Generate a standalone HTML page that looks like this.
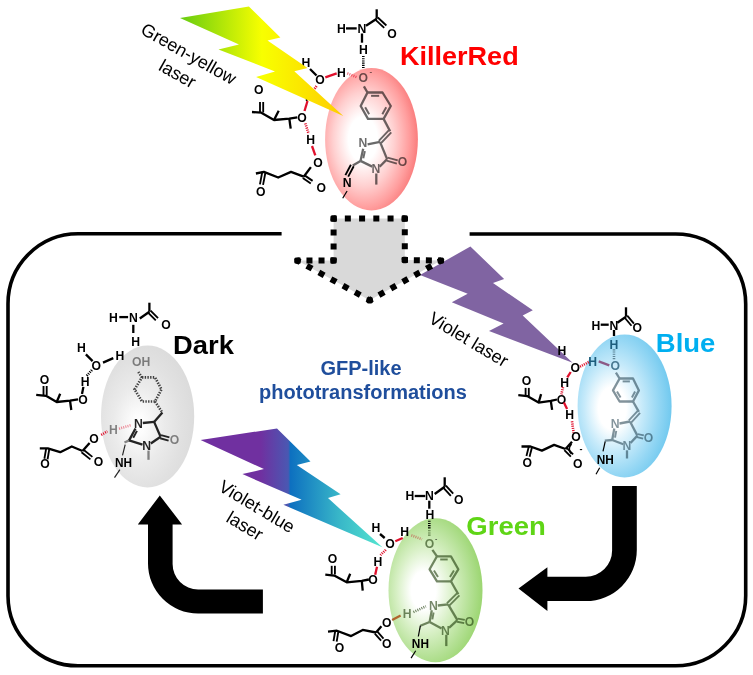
<!DOCTYPE html>
<html><head><meta charset="utf-8"><style>
html,body{margin:0;padding:0;background:#fff;width:753px;height:675px;overflow:hidden}
svg{display:block;will-change:transform}
text{font-family:"Liberation Sans",sans-serif}
</style></head><body>
<svg width="753" height="675" viewBox="0 0 753 675">
<defs>
<linearGradient id="gy" gradientUnits="userSpaceOnUse" x1="180" y1="0" x2="344" y2="0">
<stop offset="0" stop-color="#66cc11"/><stop offset="0.5" stop-color="#f8ff00"/><stop offset="1" stop-color="#ffcc00"/>
</linearGradient>
<linearGradient id="vb" gradientUnits="userSpaceOnUse" x1="200.6" y1="0" x2="382.4" y2="0">
<stop offset="0" stop-color="#7030a0"/><stop offset="0.33" stop-color="#7030a0"/><stop offset="0.482" stop-color="#4a58b2"/><stop offset="0.494" stop-color="#0d70c0"/><stop offset="0.76" stop-color="#38b6c8"/><stop offset="1" stop-color="#55e6d0"/>
</linearGradient>
<radialGradient id="gr" cx="0.43" cy="0.5" r="0.6" fx="0.4" fy="0.5"><stop offset="0" stop-color="#fff"/><stop offset="0.26" stop-color="#fff"/><stop offset="0.55" stop-color="#ffd0d0"/><stop offset="0.8" stop-color="#ff9e9e"/><stop offset="1" stop-color="#f87272"/></radialGradient>
<radialGradient id="gb" cx="0.4" cy="0.5" r="0.62" fx="0.36" fy="0.52"><stop offset="0" stop-color="#fff"/><stop offset="0.24" stop-color="#fff"/><stop offset="0.5" stop-color="#c6eafa"/><stop offset="0.76" stop-color="#95d7f4"/><stop offset="1" stop-color="#6cc7ee"/></radialGradient>
<radialGradient id="gg" cx="0.42" cy="0.5" r="0.6" fx="0.36" fy="0.5"><stop offset="0" stop-color="#fff"/><stop offset="0.22" stop-color="#fff"/><stop offset="0.5" stop-color="#d8f0c6"/><stop offset="0.78" stop-color="#b3e093"/><stop offset="1" stop-color="#98d46c"/></radialGradient>
<radialGradient id="gd" cx="0.42" cy="0.55" r="0.6" fx="0.4" fy="0.56"><stop offset="0" stop-color="#fff"/><stop offset="0.12" stop-color="#fcfcfc"/><stop offset="0.45" stop-color="#ebebeb"/><stop offset="0.75" stop-color="#e1e1e1"/><stop offset="1" stop-color="#dbdbdb"/></radialGradient>
</defs>

<path d="M281.6 233.7 H78 A70 70 0 0 0 8 303.7 V596 A70 70 0 0 0 78 665.8 H675.7 A70 70 0 0 0 745.7 595.8 V304 A70 70 0 0 0 675.7 234 H469.6" fill="none" stroke="#000" stroke-width="3.6"/>
<path d="M420 275 L470.4 246.5 L504.1 279.1 L493 283.1 L532.8 310.2 L522.7 315.5 L572.6 362.8 L489 330.9 L503.6 323.5 L451.8 302.2 L467.7 293.7 Z" fill="#8064a2"/>
<path d="M333.6 218.5 L404.8 218.5 L404.8 260 L440.9 260.6 L369.7 300.3 L297.4 260.6 L333.6 260.6 Z" fill="#d9d9d9"/>
<line x1="333.6" y1="218.5" x2="404.8" y2="218.5" stroke="#000" stroke-width="6" stroke-dasharray="6 8.24" stroke-dashoffset="3.0"/>
<line x1="404.8" y1="218.5" x2="404.8" y2="260" stroke="#000" stroke-width="6" stroke-dasharray="6 7.833" stroke-dashoffset="3.0"/>
<line x1="404.8" y1="260" x2="440.9" y2="260.6" stroke="#000" stroke-width="6" stroke-dasharray="6 6.035" stroke-dashoffset="3.0"/>
<line x1="440.9" y1="260.6" x2="369.7" y2="300.3" stroke="#000" stroke-width="6" stroke-dasharray="6 7.587" stroke-dashoffset="3.0"/>
<line x1="369.7" y1="300.3" x2="297.4" y2="260.6" stroke="#000" stroke-width="6" stroke-dasharray="6 7.747" stroke-dashoffset="3.0"/>
<line x1="297.4" y1="260.6" x2="333.6" y2="260.6" stroke="#000" stroke-width="6" stroke-dasharray="6 6.067" stroke-dashoffset="3.0"/>
<line x1="333.6" y1="260.6" x2="333.6" y2="218.5" stroke="#000" stroke-width="6" stroke-dasharray="6 8.033" stroke-dashoffset="3.0"/>
<rect x="330.40000000000003" y="215.3" width="6.4" height="6.4" rx="1.8" fill="#000"/>
<rect x="401.6" y="215.3" width="6.4" height="6.4" rx="1.8" fill="#000"/>
<rect x="401.6" y="256.8" width="6.4" height="6.4" rx="1.8" fill="#000"/>
<rect x="437.7" y="257.40000000000003" width="6.4" height="6.4" rx="1.8" fill="#000"/>
<rect x="366.5" y="297.1" width="6.4" height="6.4" rx="1.8" fill="#000"/>
<rect x="294.2" y="257.40000000000003" width="6.4" height="6.4" rx="1.8" fill="#000"/>
<rect x="330.40000000000003" y="257.40000000000003" width="6.4" height="6.4" rx="1.8" fill="#000"/>
<path d="M612.1 486.1 H636.8 V550 A51 51 0 0 1 585.8 601.1 H547.4 V611 L518.5 588.5 L547.4 567.2 V576.7 H585.8 A26.3 26.3 0 0 0 612.1 550.4 Z" fill="#000"/>
<path d="M159.8 495.4 L182.1 524.6 H172.6 V564 A25.5 25.5 0 0 0 198.1 589.5 H262.9 V613.5 H198.1 A50.1 50.1 0 0 1 148 563.4 V524.6 H137.8 Z" fill="#000"/>
<ellipse cx="371.5" cy="139.2" rx="46.4" ry="71.2" fill="url(#gr)"/>
<g opacity="0.58"><text x="363.3" y="81.79" font-size="12.2" font-weight="bold" fill="#000" text-anchor="middle">O</text><text x="369.5" y="74" font-size="8" font-weight="bold">-</text><line x1="363.9" y1="86.3" x2="367.5" y2="92.5" stroke="#000" stroke-width="2.3"/><path d="M367.5 92.5 L382.5 92.5 L390.8 106 L383.6 118.9 L368 118.9 L360.7 106 Z" fill="none" stroke="#000" stroke-width="2.3" stroke-linejoin="round"/><line x1="371.08" y1="95.83" x2="379.18" y2="95.83" stroke="#000" stroke-width="1.9549999999999998"/><line x1="386.22" y1="107.3" x2="382.34" y2="114.27" stroke="#000" stroke-width="1.9549999999999998"/><line x1="369.11" y1="114.27" x2="365.17" y2="107.3" stroke="#000" stroke-width="1.9549999999999998"/><line x1="383.6" y1="118.9" x2="390.1" y2="131.3" stroke="#000" stroke-width="2.3"/><line x1="388.94" y1="130.2" x2="378.84" y2="140.8" stroke="#000" stroke-width="1.8399999999999999"/><line x1="391.26" y1="132.4" x2="381.16" y2="143.0" stroke="#000" stroke-width="1.8399999999999999"/><line x1="380" y1="141.9" x2="367.6" y2="144.3" stroke="#000" stroke-width="2.3"/><text x="362.9" y="147.49" font-size="12.2" font-weight="bold" fill="#000" text-anchor="middle">N</text><line x1="380" y1="141.9" x2="387.1" y2="159.1" stroke="#000" stroke-width="2.3"/><line x1="386.66" y1="160.64" x2="396.86" y2="163.54" stroke="#000" stroke-width="1.8399999999999999"/><line x1="387.54" y1="157.56" x2="397.74" y2="160.46" stroke="#000" stroke-width="1.8399999999999999"/><text x="402.6" y="166.49" font-size="12.2" font-weight="bold" fill="#000" text-anchor="middle">O</text><line x1="387.1" y1="159.1" x2="379.6" y2="166.8" stroke="#000" stroke-width="2.3"/><text x="375.9" y="172.99" font-size="12.2" font-weight="bold" fill="#000" text-anchor="middle">N</text><line x1="372.2" y1="166.6" x2="360.5" y2="160.9" stroke="#000" stroke-width="2.3"/><line x1="360.5" y1="160.9" x2="363.2" y2="148.8" stroke="#000" stroke-width="2.3"/><line x1="363.29" y1="158.2" x2="364.87" y2="151.12" stroke="#000" stroke-width="1.9549999999999998"/><line x1="376.3" y1="173.5" x2="376.3" y2="184.6" stroke="#000" stroke-width="2.3"/><line x1="360.5" y1="160.9" x2="352.8" y2="165.6" stroke="#000" stroke-width="2.3"/><line x1="347.3" y1="73.3" x2="356.5" y2="77.1" stroke="#e0102c" stroke-width="2.6" stroke-dasharray="1.1 1.1"/></g>
<text x="341.3" y="33.09" font-size="12.2" font-weight="bold" fill="#000" text-anchor="middle">H</text><line x1="346" y1="28.4" x2="356.7" y2="28.4" stroke="#000" stroke-width="2.3"/><text x="362" y="33.09" font-size="12.2" font-weight="bold" fill="#000" text-anchor="middle">N</text><line x1="366" y1="25.7" x2="376.7" y2="18.7" stroke="#000" stroke-width="2.3"/><line x1="376.7" y1="18.7" x2="376.7" y2="9.3" stroke="#000" stroke-width="2.3"/><line x1="375.61" y1="19.87" x2="384.21" y2="27.87" stroke="#000" stroke-width="1.8399999999999999"/><line x1="377.79" y1="17.53" x2="386.39" y2="25.53" stroke="#000" stroke-width="1.8399999999999999"/><text x="392" y="37.89" font-size="12.2" font-weight="bold" fill="#000" text-anchor="middle">O</text><line x1="362" y1="33.5" x2="362" y2="42.7" stroke="#000" stroke-width="2.3"/><text x="363.3" y="54.39" font-size="12.2" font-weight="bold" fill="#000" text-anchor="middle">H</text><line x1="363.3" y1="56" x2="363.3" y2="69" stroke="#000" stroke-width="2.6" stroke-dasharray="1.1 1.1"/><text x="341.3" y="77.09" font-size="12.2" font-weight="bold" fill="#000" text-anchor="middle">H</text><line x1="325.3" y1="77.3" x2="336.7" y2="73.3" stroke="#e0102c" stroke-width="2.3"/><text x="320" y="84.39" font-size="12.2" font-weight="bold" fill="#000" text-anchor="middle">O</text><text x="306" y="67.09" font-size="12.2" font-weight="bold" fill="#000" text-anchor="middle">H</text><line x1="310" y1="69" x2="316.5" y2="75.5" stroke="#000" stroke-width="2.3"/><line x1="316.5" y1="86" x2="311" y2="94" stroke="#e0102c" stroke-width="2.6" stroke-dasharray="1.1 1.1"/><text x="309.5" y="100.89" font-size="12.2" font-weight="bold" fill="#000" text-anchor="middle">H</text><line x1="307.5" y1="101" x2="304.5" y2="111" stroke="#e0102c" stroke-width="2.3"/><text x="258.7" y="94.39" font-size="12.2" font-weight="bold" fill="#000" text-anchor="middle">O</text><line x1="260.0" y1="102.0" x2="260.0" y2="112.5" stroke="#000" stroke-width="1.8399999999999999"/><line x1="263.2" y1="102.0" x2="263.2" y2="112.5" stroke="#000" stroke-width="1.8399999999999999"/><path d="M252 112 L261.3 112.7 L274 120 L289.3 118.7 L297.3 117.3" fill="none" stroke="#000" stroke-width="2.3" stroke-linejoin="round"/><line x1="274" y1="120" x2="278.7" y2="110.7" stroke="#000" stroke-width="2.3"/><line x1="289.3" y1="118.7" x2="290.7" y2="128.7" stroke="#000" stroke-width="2.3"/><text x="302" y="121.69" font-size="12.2" font-weight="bold" fill="#000" text-anchor="middle">O</text><line x1="305.3" y1="123.3" x2="308.7" y2="134" stroke="#e0102c" stroke-width="2.6" stroke-dasharray="1.1 1.1"/><text x="310.7" y="144.39" font-size="12.2" font-weight="bold" fill="#000" text-anchor="middle">H</text><line x1="312" y1="146" x2="315.3" y2="155.3" stroke="#e0102c" stroke-width="2.3"/><text x="318.1" y="166.69" font-size="12.2" font-weight="bold" fill="#000" text-anchor="middle">O</text><line x1="310.9" y1="167.1" x2="303.7" y2="176.7" stroke="#000" stroke-width="2.3"/><line x1="302.79" y1="178.02" x2="310.79" y2="183.52" stroke="#000" stroke-width="1.8399999999999999"/><line x1="304.61" y1="175.38" x2="312.61" y2="180.88" stroke="#000" stroke-width="1.8399999999999999"/><text x="321.3" y="192.19" font-size="12.2" font-weight="bold" fill="#000" text-anchor="middle">O</text><path d="M255.9 173.5 L263.9 171.9 L278.2 177.5 L291 171.9 L303.7 176.7" fill="none" stroke="#000" stroke-width="2.3" stroke-linejoin="round"/><line x1="262.33" y1="171.6" x2="259.93" y2="184.3" stroke="#000" stroke-width="1.8399999999999999"/><line x1="265.47" y1="172.2" x2="263.07" y2="184.9" stroke="#000" stroke-width="1.8399999999999999"/><text x="260.7" y="196.19" font-size="12.2" font-weight="bold" fill="#000" text-anchor="middle">O</text><text x="347.1" y="187.39" font-size="12.2" font-weight="bold" fill="#000" text-anchor="middle">N</text><line x1="348.21" y1="176.65" x2="353.71" y2="166.25" stroke="#000" stroke-width="1.8399999999999999"/><line x1="345.39" y1="175.15" x2="350.89" y2="164.75" stroke="#000" stroke-width="1.8399999999999999"/><line x1="347.1" y1="191" x2="342.7" y2="198.2" stroke="#000" stroke-width="1.2"/>
<ellipse cx="624.6" cy="406" rx="47" ry="71.5" fill="url(#gb)"/>
<g opacity="0.5"><line x1="614" y1="349.3" x2="614" y2="360" stroke="#0a2a3a" stroke-width="2.6" stroke-dasharray="1.1 1.1"/><line x1="615.9" y1="372.6" x2="619.6" y2="378.5" stroke="#0a2a3a" stroke-width="2.3"/><path d="M619.6 378.5 L633 378.5 L638.9 390.4 L633 401.5 L619.6 401.5 L613 390.4 Z" fill="none" stroke="#0a2a3a" stroke-width="2.3" stroke-linejoin="round"/><line x1="622.65" y1="381.41" x2="629.89" y2="381.41" stroke="#0a2a3a" stroke-width="1.9549999999999998"/><line x1="635.1" y1="391.5" x2="631.92" y2="397.49" stroke="#0a2a3a" stroke-width="1.9549999999999998"/><line x1="620.55" y1="397.49" x2="616.99" y2="391.5" stroke="#0a2a3a" stroke-width="1.9549999999999998"/><line x1="633" y1="401.5" x2="638.9" y2="411.9" stroke="#0a2a3a" stroke-width="2.3"/><line x1="637.73" y1="410.81" x2="628.83" y2="420.41" stroke="#0a2a3a" stroke-width="1.8399999999999999"/><line x1="640.07" y1="412.99" x2="631.17" y2="422.59" stroke="#0a2a3a" stroke-width="1.8399999999999999"/><line x1="630" y1="421.5" x2="619.5" y2="423.5" stroke="#0a2a3a" stroke-width="2.3"/><text x="615.2" y="428.09" font-size="12.2" font-weight="bold" fill="#0a2a3a" text-anchor="middle">N</text><line x1="630" y1="421.5" x2="637.4" y2="435.6" stroke="#0a2a3a" stroke-width="2.3"/><line x1="637.04" y1="437.16" x2="643.14" y2="438.56" stroke="#0a2a3a" stroke-width="1.8399999999999999"/><line x1="637.76" y1="434.04" x2="643.86" y2="435.44" stroke="#0a2a3a" stroke-width="1.8399999999999999"/><text x="648.5" y="442.19" font-size="12.2" font-weight="bold" fill="#0a2a3a" text-anchor="middle">O</text><line x1="637.4" y1="435.6" x2="630.5" y2="443" stroke="#0a2a3a" stroke-width="2.3"/><text x="627" y="450.29" font-size="12.2" font-weight="bold" fill="#0a2a3a" text-anchor="middle">N</text><line x1="623.3" y1="444.3" x2="612.2" y2="440" stroke="#0a2a3a" stroke-width="2.3"/><line x1="612.2" y1="440" x2="614.3" y2="428.5" stroke="#0a2a3a" stroke-width="2.3"/><line x1="615.0" y1="437.56" x2="616.23" y2="430.83" stroke="#0a2a3a" stroke-width="1.9549999999999998"/><line x1="627" y1="450.3" x2="627" y2="458.5" stroke="#0a2a3a" stroke-width="2.3"/><line x1="612.2" y1="440" x2="604.8" y2="440.7" stroke="#0a2a3a" stroke-width="2.3"/></g>
<text x="596" y="329.69" font-size="12.2" font-weight="bold" fill="#000" text-anchor="middle">H</text><line x1="600.7" y1="324.7" x2="608.7" y2="324.7" stroke="#000" stroke-width="2.3"/><text x="614" y="329.69" font-size="12.2" font-weight="bold" fill="#000" text-anchor="middle">N</text><line x1="617.3" y1="322.7" x2="626" y2="316.7" stroke="#000" stroke-width="2.3"/><line x1="626" y1="316.7" x2="626" y2="307.3" stroke="#000" stroke-width="2.3"/><line x1="624.77" y1="317.73" x2="631.47" y2="325.73" stroke="#000" stroke-width="1.8399999999999999"/><line x1="627.23" y1="315.67" x2="633.93" y2="323.67" stroke="#000" stroke-width="1.8399999999999999"/><text x="637.3" y="331.69" font-size="12.2" font-weight="bold" fill="#000" text-anchor="middle">O</text><line x1="614" y1="330" x2="614" y2="336" stroke="#000" stroke-width="2.3"/><text x="575.3" y="372.39" font-size="12.2" font-weight="bold" fill="#000" text-anchor="middle">O</text><text x="562" y="354.89" font-size="12.2" font-weight="bold" fill="#000" text-anchor="middle">H</text><text x="614" y="349.09" font-size="12.2" font-weight="bold" fill="#1d5d7c" text-anchor="middle">H</text><text x="592.7" y="366.39" font-size="12.2" font-weight="bold" fill="#1d5d7c" text-anchor="middle">H</text><text x="615.2" y="369.59" font-size="12.2" font-weight="bold" fill="#4a7a92" text-anchor="middle">O</text><line x1="598.7" y1="361.3" x2="609.3" y2="365.3" stroke="#8c5a86" stroke-width="2.3"/><line x1="580" y1="366.7" x2="588.7" y2="362" stroke="#e0102c" stroke-width="2.6" stroke-dasharray="1.1 1.1"/><line x1="570.7" y1="372" x2="567.3" y2="377.3" stroke="#e0102c" stroke-width="2.3"/><text x="564.7" y="386.59" font-size="12.2" font-weight="bold" fill="#000" text-anchor="middle">H</text><line x1="563" y1="387.1" x2="561.4" y2="394.4" stroke="#e0102c" stroke-width="2.6" stroke-dasharray="1.1 1.1"/><text x="561.4" y="403.69" font-size="12.2" font-weight="bold" fill="#000" text-anchor="middle">O</text><text x="526.4" y="384.99" font-size="12.2" font-weight="bold" fill="#000" text-anchor="middle">O</text><line x1="525.6" y1="387.9" x2="525.6" y2="396.1" stroke="#000" stroke-width="1.8399999999999999"/><line x1="528.8" y1="387.9" x2="528.8" y2="396.1" stroke="#000" stroke-width="1.8399999999999999"/><path d="M518.3 395.2 L527.2 396.1 L538.6 402.6 L550.8 400.9 L557 399.5" fill="none" stroke="#000" stroke-width="2.3" stroke-linejoin="round"/><line x1="538.6" y1="402.6" x2="541.1" y2="394.1" stroke="#000" stroke-width="2.3"/><line x1="550.8" y1="400.9" x2="552.1" y2="409.9" stroke="#000" stroke-width="2.3"/><line x1="563.9" y1="402.6" x2="567.1" y2="409.1" stroke="#e0102c" stroke-width="2.3"/><text x="569.6" y="419.19" font-size="12.2" font-weight="bold" fill="#000" text-anchor="middle">H</text><line x1="572" y1="421.3" x2="573.6" y2="432.7" stroke="#e0102c" stroke-width="2.6" stroke-dasharray="1.1 1.1"/><text x="576.1" y="441.19" font-size="12.2" font-weight="bold" fill="#000" text-anchor="middle">O</text><line x1="565.5" y1="449" x2="572" y2="441.7" stroke="#000" stroke-width="2.3"/><line x1="564.37" y1="450.13" x2="570.87" y2="456.63" stroke="#000" stroke-width="1.8399999999999999"/><line x1="566.63" y1="447.87" x2="573.13" y2="454.37" stroke="#000" stroke-width="1.8399999999999999"/><text x="577.7" y="467.99" font-size="12.2" font-weight="bold" fill="#000" text-anchor="middle">O</text><path d="M571.5 444 Q567 449 571.5 454" fill="none" stroke="#000" stroke-width="1.6"/><text x="581" y="452" font-size="9" font-weight="bold" text-anchor="middle">-</text><path d="M521.5 446.5 L530.5 446.5 L541.9 450.6 L554.1 444.9 L565.5 449" fill="none" stroke="#000" stroke-width="2.3" stroke-linejoin="round"/><line x1="528.95" y1="446.1" x2="526.45" y2="455.9" stroke="#000" stroke-width="1.8399999999999999"/><line x1="532.05" y1="446.9" x2="529.55" y2="456.7" stroke="#000" stroke-width="1.8399999999999999"/><text x="527.2" y="467.19" font-size="12.2" font-weight="bold" fill="#000" text-anchor="middle">O</text><text transform="translate(605.2 463.5) scale(0.87 1)" font-size="13.6" font-weight="bold" fill="#000" text-anchor="middle">NH</text><line x1="603" y1="451.4" x2="605.2" y2="441.5" stroke="#000" stroke-width="1.2"/><line x1="599.7" y1="467.7" x2="596" y2="474.2" stroke="#000" stroke-width="1.2"/>
<ellipse cx="435.5" cy="590.3" rx="47" ry="72" fill="url(#gg)"/>
<g opacity="0.6"><text x="407.2" y="618.19" font-size="12.2" font-weight="bold" fill="#1c3a08" text-anchor="middle">H</text><line x1="413.4" y1="612.1" x2="425.9" y2="606.3" stroke="#1c3a08" stroke-width="2.6" stroke-dasharray="1.1 1.1"/><text x="429.6" y="547.69" font-size="12.2" font-weight="bold" fill="#1c3a08" text-anchor="middle">O</text><text x="435" y="541" font-size="7" font-weight="bold">-</text><line x1="429.3" y1="528" x2="429.3" y2="536.5" stroke="#1c3a08" stroke-width="2.6" stroke-dasharray="1.1 1.1"/><line x1="432.4" y1="549.8" x2="437" y2="556.3" stroke="#1c3a08" stroke-width="2.3"/><path d="M437 556.3 L450.9 556.3 L458.3 569.3 L450.9 581.3 L437 581.3 L429.6 569.3 Z" fill="none" stroke="#1c3a08" stroke-width="2.3" stroke-linejoin="round"/><line x1="440.2" y1="559.47" x2="447.7" y2="559.47" stroke="#1c3a08" stroke-width="1.9549999999999998"/><line x1="453.94" y1="570.48" x2="449.94" y2="576.96" stroke="#1c3a08" stroke-width="1.9549999999999998"/><line x1="437.96" y1="576.96" x2="433.96" y2="570.48" stroke="#1c3a08" stroke-width="1.9549999999999998"/><line x1="450.9" y1="581.3" x2="458.3" y2="594.3" stroke="#1c3a08" stroke-width="2.3"/><line x1="457.17" y1="593.16" x2="446.97" y2="603.26" stroke="#1c3a08" stroke-width="1.8399999999999999"/><line x1="459.43" y1="595.44" x2="449.23" y2="605.54" stroke="#1c3a08" stroke-width="1.8399999999999999"/><line x1="448.1" y1="604.4" x2="437.8" y2="605.5" stroke="#1c3a08" stroke-width="2.3"/><text x="433.3" y="609.79" font-size="12.2" font-weight="bold" fill="#1c3a08" text-anchor="middle">N</text><line x1="448.1" y1="604.4" x2="457.4" y2="620.2" stroke="#1c3a08" stroke-width="2.3"/><line x1="457.11" y1="621.77" x2="464.21" y2="623.07" stroke="#1c3a08" stroke-width="1.8399999999999999"/><line x1="457.69" y1="618.63" x2="464.79" y2="619.93" stroke="#1c3a08" stroke-width="1.8399999999999999"/><text x="469.4" y="626.39" font-size="12.2" font-weight="bold" fill="#1c3a08" text-anchor="middle">O</text><line x1="457.4" y1="620.2" x2="449" y2="627.8" stroke="#1c3a08" stroke-width="2.3"/><text x="445.4" y="634.79" font-size="12.2" font-weight="bold" fill="#1c3a08" text-anchor="middle">N</text><line x1="441.6" y1="628.4" x2="429.6" y2="622" stroke="#1c3a08" stroke-width="2.3"/><line x1="429.6" y1="622" x2="431.8" y2="610.3" stroke="#1c3a08" stroke-width="2.3"/><line x1="432.32" y1="619.32" x2="433.61" y2="612.47" stroke="#1c3a08" stroke-width="1.9549999999999998"/><line x1="446.3" y1="634.8" x2="446.3" y2="646.1" stroke="#1c3a08" stroke-width="2.3"/><line x1="429.6" y1="622" x2="420.4" y2="625.7" stroke="#1c3a08" stroke-width="2.3"/></g>
<text x="410" y="500.39" font-size="12.2" font-weight="bold" fill="#000" text-anchor="middle">H</text><line x1="414.7" y1="496" x2="425.3" y2="496" stroke="#000" stroke-width="2.3"/><text x="429.3" y="500.39" font-size="12.2" font-weight="bold" fill="#000" text-anchor="middle">N</text><line x1="434.7" y1="494" x2="444.7" y2="486.7" stroke="#000" stroke-width="2.3"/><line x1="444.7" y1="486.7" x2="444.7" y2="477.3" stroke="#000" stroke-width="2.3"/><line x1="443.52" y1="487.78" x2="450.82" y2="495.78" stroke="#000" stroke-width="1.8399999999999999"/><line x1="445.88" y1="485.62" x2="453.18" y2="493.62" stroke="#000" stroke-width="1.8399999999999999"/><text x="458.7" y="504.39" font-size="12.2" font-weight="bold" fill="#000" text-anchor="middle">O</text><line x1="429.3" y1="500.7" x2="429.3" y2="508.7" stroke="#000" stroke-width="2.3"/><text x="430" y="519.09" font-size="12.2" font-weight="bold" fill="#000" text-anchor="middle">H</text><line x1="429.3" y1="520.7" x2="429.3" y2="528" stroke="#000" stroke-width="2.6" stroke-dasharray="1.1 1.1"/><text x="404.7" y="536.39" font-size="12.2" font-weight="bold" fill="#000" text-anchor="middle">H</text><line x1="411.3" y1="535.3" x2="422" y2="539.3" stroke="#c29070" stroke-width="2.6" stroke-dasharray="1.1 1.1"/><line x1="395.3" y1="541.3" x2="402.7" y2="538" stroke="#e0102c" stroke-width="2.3"/><text x="390" y="548.39" font-size="12.2" font-weight="bold" fill="#000" text-anchor="middle">O</text><text x="376" y="531.69" font-size="12.2" font-weight="bold" fill="#000" text-anchor="middle">H</text><line x1="380" y1="534" x2="384.7" y2="538" stroke="#000" stroke-width="2.3"/><line x1="385.8" y1="549.8" x2="380.5" y2="555.1" stroke="#e0102c" stroke-width="2.6" stroke-dasharray="1.1 1.1"/><text x="377.8" y="565.79" font-size="12.2" font-weight="bold" fill="#000" text-anchor="middle">H</text><line x1="377" y1="566.7" x2="375.2" y2="574.7" stroke="#e0102c" stroke-width="2.3"/><text x="373" y="583.89" font-size="12.2" font-weight="bold" fill="#000" text-anchor="middle">O</text><text x="332.5" y="563.09" font-size="12.2" font-weight="bold" fill="#000" text-anchor="middle">O</text><line x1="331.7" y1="565.8" x2="331.7" y2="574.5" stroke="#000" stroke-width="1.8399999999999999"/><line x1="334.9" y1="565.8" x2="334.9" y2="574.5" stroke="#000" stroke-width="1.8399999999999999"/><path d="M325.3 574.7 L334.2 575.6 L346.7 582.3 L361.8 580.9 L368.9 579.5" fill="none" stroke="#000" stroke-width="2.3" stroke-linejoin="round"/><line x1="346.7" y1="582.3" x2="350.2" y2="573.8" stroke="#000" stroke-width="2.3"/><line x1="361.8" y1="580.9" x2="362.7" y2="590.7" stroke="#000" stroke-width="2.3"/><text x="386.7" y="627.09" font-size="12.2" font-weight="bold" fill="#000" text-anchor="middle">O</text><line x1="392.1" y1="620.1" x2="400.6" y2="615.4" stroke="#b0662e" stroke-width="2.3"/><line x1="376" y1="632.5" x2="381.4" y2="626.3" stroke="#000" stroke-width="2.3"/><line x1="374.8" y1="633.56" x2="381.1" y2="640.66" stroke="#000" stroke-width="1.8399999999999999"/><line x1="377.2" y1="631.44" x2="383.5" y2="638.54" stroke="#000" stroke-width="1.8399999999999999"/><text x="386.7" y="648.49" font-size="12.2" font-weight="bold" fill="#000" text-anchor="middle">O</text><path d="M328 631.6 L336.9 630.7 L351.1 636.1 L362.7 629.9 L376 632.5" fill="none" stroke="#000" stroke-width="2.3" stroke-linejoin="round"/><line x1="335.32" y1="630.43" x2="333.52" y2="641.13" stroke="#000" stroke-width="1.8399999999999999"/><line x1="338.48" y1="630.97" x2="336.68" y2="641.67" stroke="#000" stroke-width="1.8399999999999999"/><text x="339.6" y="652.09" font-size="12.2" font-weight="bold" fill="#000" text-anchor="middle">O</text><text transform="translate(420.4 648.2) scale(0.87 1)" font-size="13.6" font-weight="bold" fill="#000" text-anchor="middle">NH</text><line x1="415.7" y1="650.7" x2="411.1" y2="658.1" stroke="#000" stroke-width="1.2"/><line x1="418.3" y1="636.5" x2="420.4" y2="625.7" stroke="#000" stroke-width="1.2"/>
<ellipse cx="147.6" cy="416.5" rx="46.6" ry="71" fill="url(#gd)"/>
<g opacity="0.72"><path d="M142 377.4 L155 377.4 L161.5 389.4 L155 401.5 L142 401.5 L134.6 389.4 Z" fill="none" stroke="#000" stroke-width="2.7" stroke-dasharray="1.4 1.3"/><line x1="155" y1="401.5" x2="162.4" y2="412.6" stroke="#000" stroke-width="2.6" stroke-dasharray="1.4 1.3"/><line x1="138.3" y1="371.9" x2="142" y2="377.4" stroke="#000" stroke-width="2.6" stroke-dasharray="1.4 1.3"/></g>
<g opacity="0.45"><text x="141.1" y="366.09" font-size="12.2" font-weight="bold" fill="#000" text-anchor="middle">OH</text><text x="174.4" y="443.79" font-size="12.2" font-weight="bold" fill="#000" text-anchor="middle">O</text><line x1="148.5" y1="450.6" x2="148.5" y2="459.8" stroke="#000" stroke-width="2.3"/><text x="113.3" y="433.69" font-size="12.2" font-weight="bold" fill="#000" text-anchor="middle">H</text><line x1="119" y1="428.7" x2="131" y2="425.2" stroke="#e0102c" stroke-width="2.6" stroke-dasharray="1.1 1.1"/><line x1="129.1" y1="440.4" x2="124.5" y2="442.5" stroke="#000" stroke-width="2.3"/></g>
<g opacity="0.85"><line x1="122.5" y1="455.4" x2="125.2" y2="444.7" stroke="#000" stroke-width="1.2"/><line x1="119.9" y1="469.6" x2="114.5" y2="477.7" stroke="#000" stroke-width="1.2"/><text x="138.3" y="428.09" font-size="12.2" font-weight="bold" fill="#000" text-anchor="middle">N</text><text x="146.7" y="450.29" font-size="12.2" font-weight="bold" fill="#000" text-anchor="middle">N</text><line x1="142.8" y1="423" x2="154.1" y2="421.9" stroke="#000" stroke-width="2.3"/><line x1="154.1" y1="421.9" x2="160.6" y2="436.7" stroke="#000" stroke-width="2.3"/><line x1="160.18" y1="438.24" x2="168.58" y2="440.54" stroke="#000" stroke-width="1.8399999999999999"/><line x1="161.02" y1="435.16" x2="169.42" y2="437.46" stroke="#000" stroke-width="1.8399999999999999"/><line x1="160.6" y1="436.7" x2="150.8" y2="443.5" stroke="#000" stroke-width="2.3"/><line x1="142.5" y1="444.6" x2="129.1" y2="440.4" stroke="#000" stroke-width="2.3"/><line x1="129.1" y1="440.4" x2="135.5" y2="428.5" stroke="#000" stroke-width="2.3"/><line x1="133.22" y1="437.83" x2="136.97" y2="430.87" stroke="#000" stroke-width="1.9549999999999998"/><line x1="154.1" y1="421.9" x2="162.4" y2="412.6" stroke="#000" stroke-width="2.3"/></g>
<text x="113.3" y="321.79" font-size="12.2" font-weight="bold" fill="#000" text-anchor="middle">H</text><line x1="119.3" y1="317.1" x2="128.1" y2="317.1" stroke="#000" stroke-width="2.3"/><text x="133.3" y="322.49" font-size="12.2" font-weight="bold" fill="#000" text-anchor="middle">N</text><line x1="139.8" y1="318.5" x2="149.4" y2="311.7" stroke="#000" stroke-width="2.3"/><line x1="149.4" y1="311.7" x2="149.4" y2="302.7" stroke="#000" stroke-width="2.3"/><line x1="148.27" y1="312.83" x2="155.77" y2="320.33" stroke="#000" stroke-width="1.8399999999999999"/><line x1="150.53" y1="310.57" x2="158.03" y2="318.07" stroke="#000" stroke-width="1.8399999999999999"/><text x="166" y="329.39" font-size="12.2" font-weight="bold" fill="#000" text-anchor="middle">O</text><line x1="133.3" y1="324.8" x2="133.3" y2="333" stroke="#000" stroke-width="2.3"/><text x="135.6" y="346.29" font-size="12.2" font-weight="bold" fill="#000" text-anchor="middle">H</text><text x="81.5" y="352.19" font-size="12.2" font-weight="bold" fill="#000" text-anchor="middle">H</text><line x1="85.9" y1="354.4" x2="92.6" y2="361.1" stroke="#000" stroke-width="2.3"/><text x="96.3" y="370.29" font-size="12.2" font-weight="bold" fill="#000" text-anchor="middle">O</text><line x1="103" y1="362.6" x2="113.3" y2="358.1" stroke="#000" stroke-width="2.3"/><text x="120" y="359.59" font-size="12.2" font-weight="bold" fill="#000" text-anchor="middle">H</text><line x1="91.9" y1="370" x2="86.7" y2="375.9" stroke="#000" stroke-width="2.6" stroke-dasharray="1.1 1.1"/><text x="85.2" y="385.99" font-size="12.2" font-weight="bold" fill="#000" text-anchor="middle">H</text><line x1="83.4" y1="386.9" x2="82" y2="394" stroke="#000" stroke-width="2.3"/><text x="83" y="403.79" font-size="12.2" font-weight="bold" fill="#000" text-anchor="middle">O</text><text x="44.6" y="384.19" font-size="12.2" font-weight="bold" fill="#000" text-anchor="middle">O</text><line x1="43.5" y1="386.0" x2="43.5" y2="395.0" stroke="#000" stroke-width="1.8399999999999999"/><line x1="46.7" y1="386.0" x2="46.7" y2="395.0" stroke="#000" stroke-width="1.8399999999999999"/><path d="M36.2 394.9 L46 395.8 L56.7 402 L70 400.6 L78 399.4" fill="none" stroke="#000" stroke-width="2.3" stroke-linejoin="round"/><line x1="56.7" y1="402" x2="60.2" y2="393.7" stroke="#000" stroke-width="2.3"/><line x1="70" y1="400.6" x2="71.3" y2="410" stroke="#000" stroke-width="2.3"/><text x="94.1" y="442.89" font-size="12.2" font-weight="bold" fill="#000" text-anchor="middle">O</text><line x1="82.5" y1="451" x2="89.6" y2="443" stroke="#000" stroke-width="2.3"/><line x1="81.5" y1="452.25" x2="90.4" y2="459.35" stroke="#000" stroke-width="1.8399999999999999"/><line x1="83.5" y1="449.75" x2="92.4" y2="456.85" stroke="#000" stroke-width="1.8399999999999999"/><text x="98.5" y="465.99" font-size="12.2" font-weight="bold" fill="#000" text-anchor="middle">O</text><path d="M39.8 448.3 L47.8 448.3 L60.2 452.2 L71.8 446.5 L82.5 451" fill="none" stroke="#000" stroke-width="2.3" stroke-linejoin="round"/><line x1="46.22" y1="448.03" x2="44.42" y2="458.73" stroke="#000" stroke-width="1.8399999999999999"/><line x1="49.38" y1="448.57" x2="47.58" y2="459.27" stroke="#000" stroke-width="1.8399999999999999"/><text x="45.1" y="467.79" font-size="12.2" font-weight="bold" fill="#000" text-anchor="middle">O</text><line x1="101.2" y1="434.9" x2="107.4" y2="431.4" stroke="#e0102c" stroke-width="2.6" stroke-dasharray="1.1 1.1"/><text transform="translate(123.6 467.2) scale(0.87 1)" font-size="13.6" font-weight="bold" fill="#000" text-anchor="middle">NH</text>
<path d="M180 17.9 L248.9 6.5 L280.4 37.5 L267.5 40.6 L307.5 68.1 L294.3 71.2 L343.3 115.9 L256.1 77 L275 71.5 L218.5 49.5 L239 44.5 Z" fill="url(#gy)"/>
<path d="M200.6 440.1 L277 428.4 L310.5 461.6 L296.8 464.9 L340.6 494.2 L328 498.1 L382.4 547.2 L283.4 504.8 L301.6 499.8 L242.4 474.1 L263.9 469.1 Z" fill="url(#vb)"/>
<text transform="translate(400 65.3) scale(1.04 1)" font-size="26" font-weight="bold" fill="#ff0000">KillerRed</text>
<text transform="translate(173 354.4) scale(1.053 1)" font-size="26" font-weight="bold" fill="#000">Dark</text>
<text transform="translate(655.8 351.6) scale(1.058 1)" font-size="26" font-weight="bold" fill="#00aff0">Blue</text>
<text transform="translate(466.3 534.8) scale(1.058 1)" font-size="26" font-weight="bold" fill="#5fd516">Green</text>
<text x="361" y="375.4" font-size="20" font-weight="bold" fill="#1f4e9c" text-anchor="middle">GFP-like</text>
<text x="363" y="398.9" font-size="20" font-weight="bold" fill="#1f4e9c" text-anchor="middle">phototransformations</text>
<text transform="translate(139.5 33) rotate(29.5)" font-size="18" fill="#000">Green-yellow</text>
<text transform="translate(157.5 69.5) rotate(29.5)" font-size="18" fill="#000">laser</text>
<text transform="translate(427.5 321.8) rotate(31)" font-size="18" fill="#000">Violet laser</text>
<text transform="translate(217.5 490) rotate(31)" font-size="18" fill="#000">Violet-blue</text>
<text transform="translate(225 521) rotate(31)" font-size="18" fill="#000">laser</text>

</svg>
</body></html>
